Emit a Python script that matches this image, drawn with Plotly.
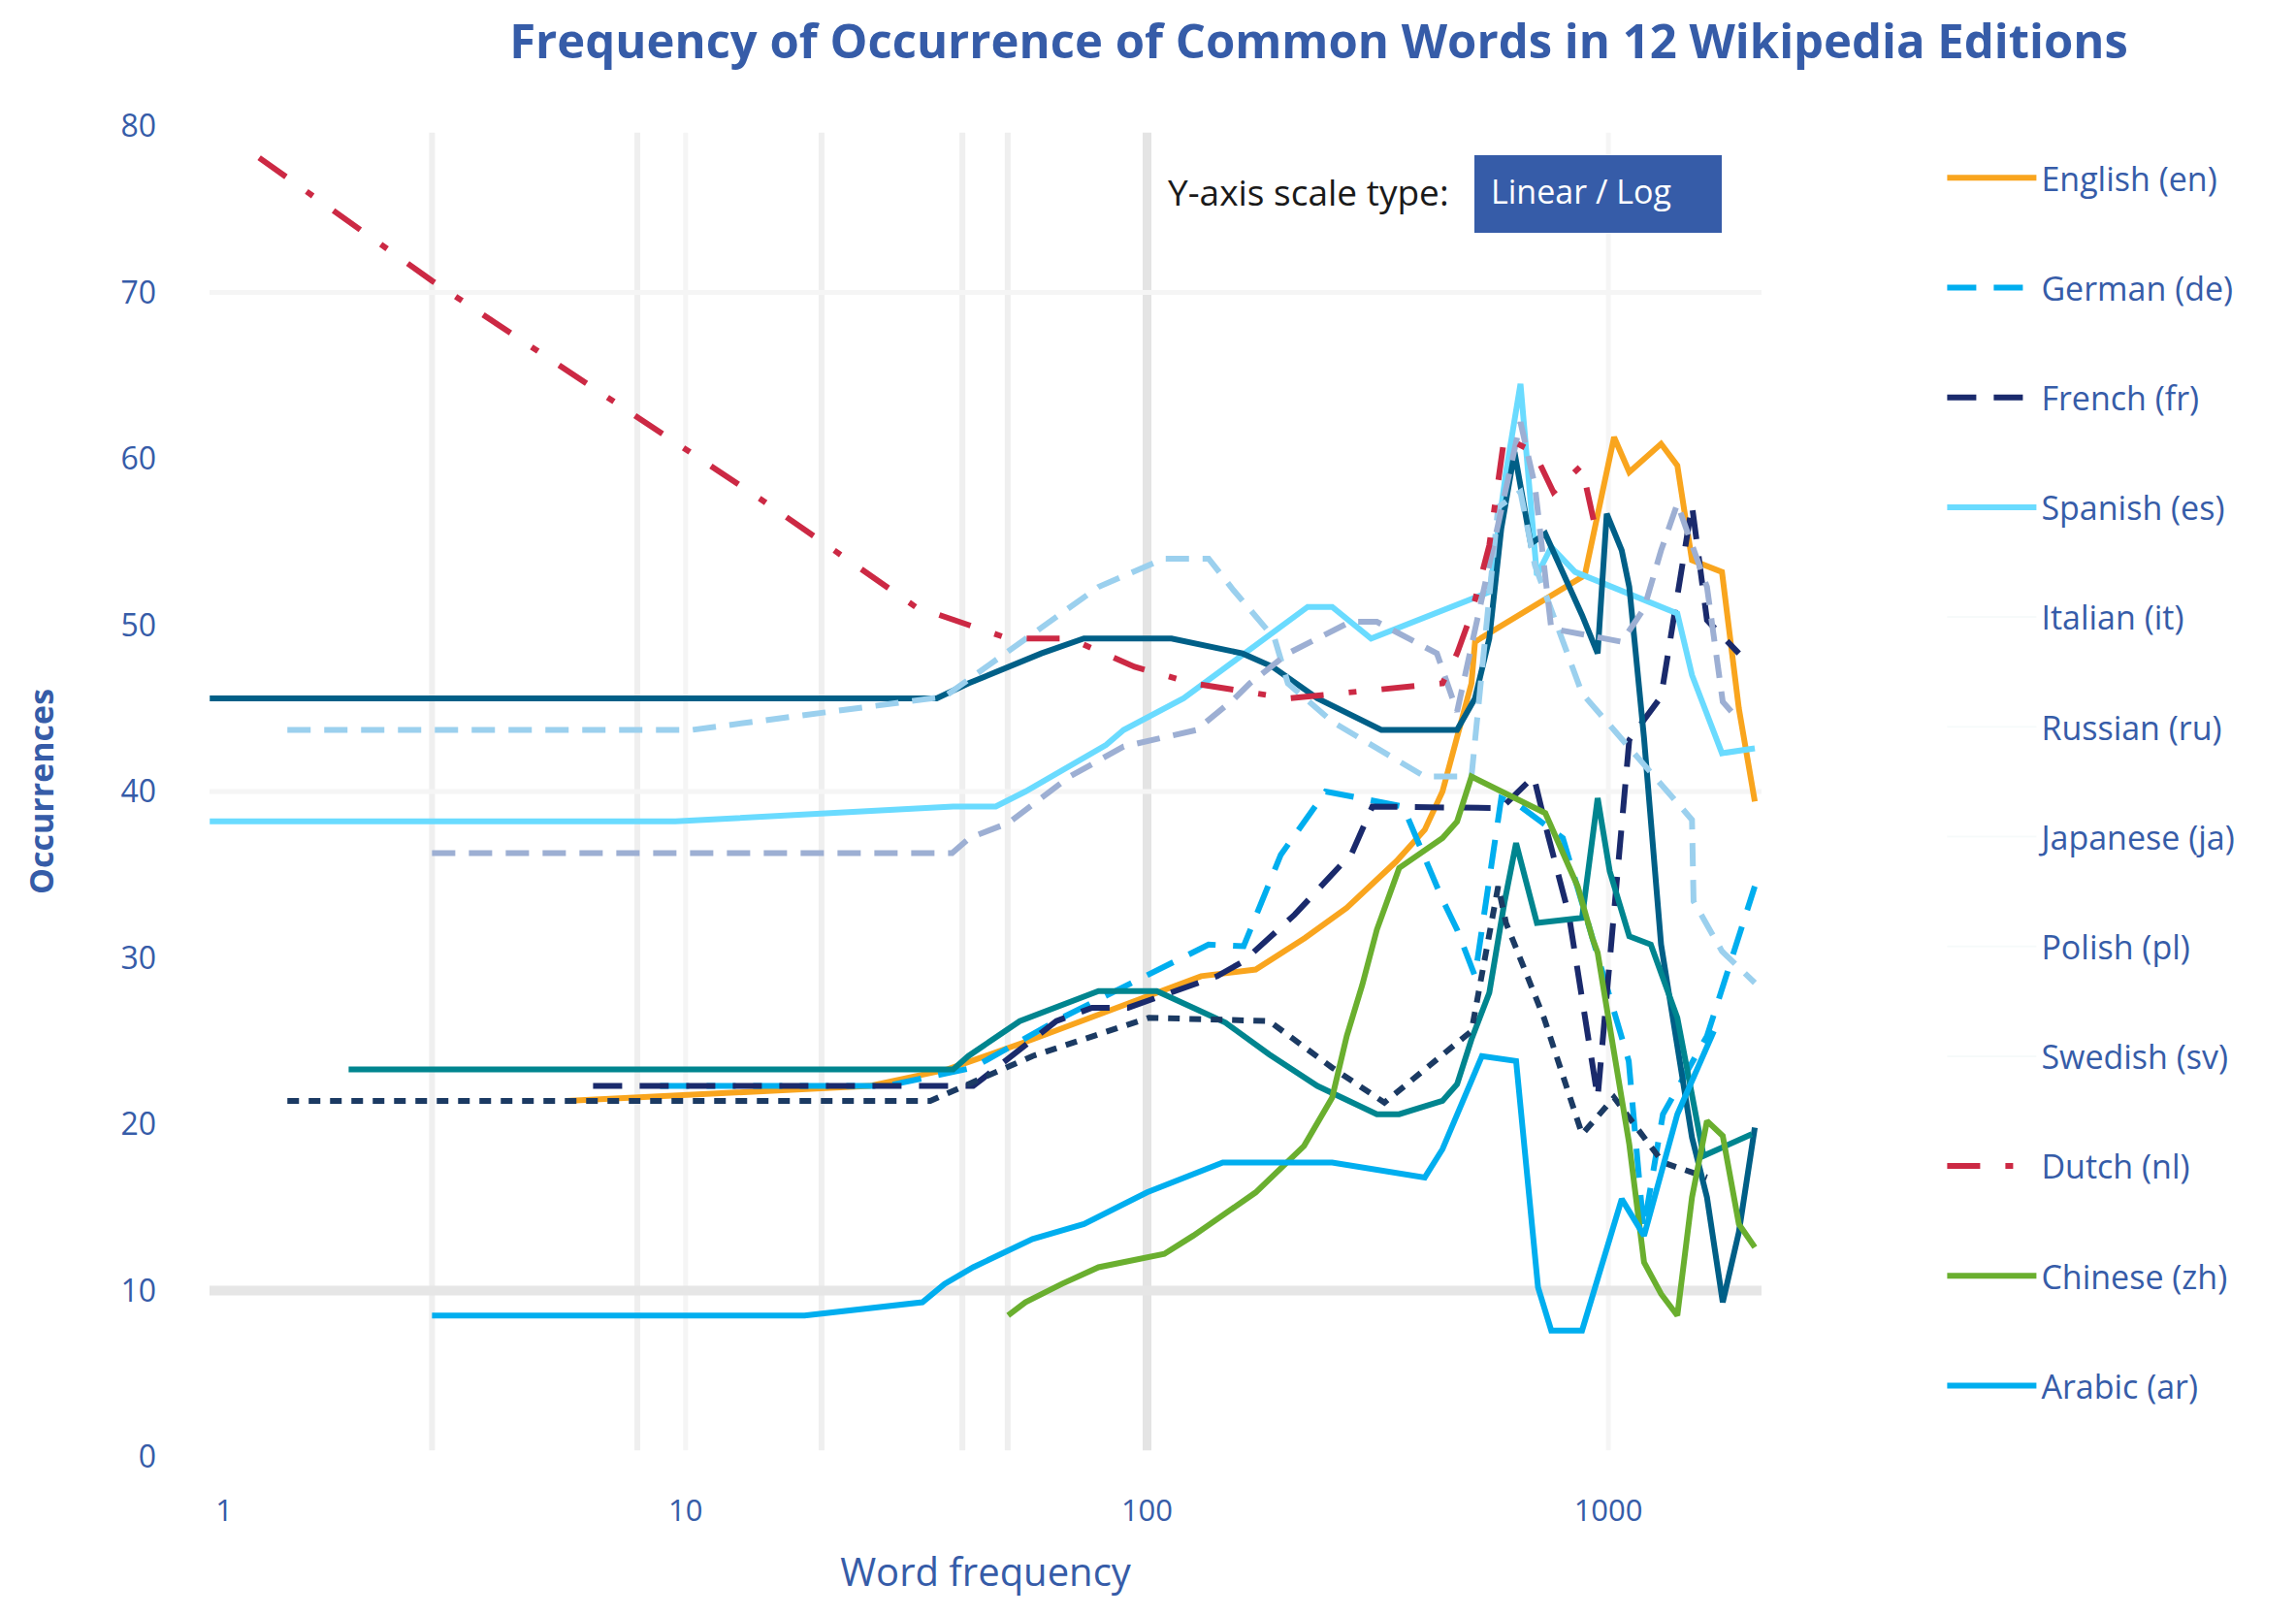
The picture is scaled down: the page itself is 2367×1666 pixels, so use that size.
import plotly.graph_objects as go

# ---------------- data ----------------
x_tick_vals = [1, 10, 100, 1000]
x_tick_text = ["1", "10", "100", "1000"]
y_tick_vals = [0, 10, 20, 30, 40, 50, 60, 70, 80]
y_tick_text = ["0", "10", "20", "30", "40", "50", "60", "70", "80"]

names = ["English (en)", "German (de)", "French (fr)", "Spanish (es)",
         "Italian (it)", "Russian (ru)", "Japanese (ja)", "Polish (pl)",
         "Swedish (sv)", "Dutch (nl)", "Chinese (zh)", "Arabic (ar)"]

orange_x = [5.5, 25, 37, 56.5, 131, 172, 220, 271, 347, 400, 437, 505, 514, 889, 1029, 1110, 1301, 1411, 1518, 1763, 1918, 2077]
orange_y = [21.4, 22.3, 23.3, 25.1, 28.9, 29.3, 31.2, 33.0, 35.8, 37.7, 40.0, 46.5, 49.0, 53.0, 61.3, 59.2, 60.9, 59.6, 53.9, 53.2, 45.0, 39.4]

bbd_x = [8.8, 27.2, 42, 65.4, 136, 162, 195, 244, 359, 407, 437, 470, 514, 586, 645, 797, 1107, 1192, 1313, 1636, 2077]
bbd_y = [22.3, 22.3, 23.4, 26.4, 30.8, 30.7, 36.2, 40.0, 39.1, 35.4, 33.5, 31.7, 28.9, 39.6, 39.1, 37.2, 23.8, 13.7, 20.6, 25.3, 34.3]

navy_x = [6.3, 29.3, 42, 63.6, 76, 91, 142, 162, 209, 278, 308, 586, 689, 741, 821, 948, 1110, 1301, 1518, 1636, 1918]
navy_y = [22.3, 22.3, 22.3, 26.2, 27.0, 27.0, 28.9, 29.8, 32.6, 36.3, 39.1, 39.0, 40.9, 37.3, 32.6, 21.6, 43.1, 45.7, 57.2, 50.3, 48.3]

cyan_x = [0.93, 9.5, 38, 47, 54.5, 81.5, 89, 105, 120, 223, 252, 306, 553, 600, 645, 700, 752, 847, 1411, 1518, 1763, 2077]
cyan_y = [38.2, 38.2, 39.1, 39.1, 40.0, 42.8, 43.7, 44.7, 45.6, 51.1, 51.1, 49.2, 52.0, 59.2, 64.5, 53.0, 54.7, 53.2, 50.7, 47.0, 42.3, 42.6]

dteal_x = [0.93, 35, 41, 59, 73, 113, 161, 187, 234, 322, 470, 514, 552, 586, 626, 679, 730, 877, 948, 992, 1069, 1110, 1195, 1301, 1518, 1636, 1770, 1918, 2077]
dteal_y = [45.6, 45.6, 46.5, 48.3, 49.2, 49.2, 48.3, 47.5, 45.6, 43.7, 43.7, 45.6, 49.2, 55.8, 60.4, 54.9, 55.5, 50.6, 48.3, 56.7, 54.5, 52.3, 43.2, 30.8, 19.2, 15.6, 9.3, 13.5, 19.8]

lblue_x = [1.37, 10.3, 36.4, 62, 78.5, 109, 136, 154, 189, 202, 252, 400, 505, 577, 645, 693, 815, 877, 1518, 1530, 1763, 2077]
lblue_y = [43.7, 43.7, 45.7, 50.2, 52.3, 54.0, 54.0, 52.1, 49.2, 46.5, 44.2, 40.9, 40.9, 57.1, 58.0, 53.6, 48.2, 45.9, 38.3, 33.4, 30.4, 28.5]

gblue_x = [2.82, 37.8, 41.2, 50, 68, 89, 128, 155, 167, 202, 276, 315, 425, 470, 645, 693, 752, 1069, 1195, 1301, 1411, 1518, 1636, 1770, 1918]
gblue_y = [36.3, 36.3, 37.2, 38.1, 40.9, 42.7, 43.7, 45.6, 46.5, 48.3, 50.2, 50.2, 48.3, 44.8, 62.2, 58.4, 49.8, 49.0, 51.0, 54.5, 57.3, 54.7, 52.3, 45.4, 44.3]

teal_x = [1.86, 38, 41, 53, 78.5, 105, 126, 148, 184, 234, 315, 352, 437, 470, 505, 552, 595, 631, 700, 877, 948, 1007, 1110, 1236, 1411, 1608, 2046]
teal_y = [23.3, 23.3, 24.1, 26.2, 28.0, 28.0, 27.0, 26.1, 24.2, 22.3, 20.6, 20.6, 21.4, 22.4, 25.1, 27.9, 33.3, 36.9, 32.1, 32.4, 39.6, 35.2, 31.3, 30.8, 26.4, 18.1, 19.4]

dnavy_x = [1.37, 33.9, 56.5, 101, 184, 252, 327, 505, 577, 600, 725, 787, 877, 1029, 1313, 1636]
dnavy_y = [21.4, 21.4, 24.1, 26.4, 26.2, 23.4, 21.3, 25.6, 34.3, 32.1, 26.4, 23.4, 19.4, 21.6, 17.7, 16.8]

red_x = [1.19, 2.82, 7.2, 14.5, 31.5, 50, 68, 94, 126, 202, 437, 470, 505, 552, 595, 691, 760, 875, 948]
red_y = [78.1, 70.7, 63.2, 57.6, 51.1, 49.2, 49.2, 47.5, 46.5, 45.6, 46.5, 48.3, 50.7, 54.8, 61.3, 60.4, 58.0, 59.6, 55.2]

green_x = [50, 54.5, 65.4, 78.5, 109, 126, 172, 219, 252, 271, 293, 315, 352, 437, 470, 505, 730, 858, 923, 948, 1029, 1110, 1195, 1301, 1411, 1518, 1636, 1770, 1918, 2077]
green_y = [8.5, 9.3, 10.4, 11.4, 12.2, 13.3, 15.9, 18.7, 21.6, 25.3, 28.4, 31.7, 35.4, 37.2, 38.2, 40.9, 38.7, 34.3, 31.2, 30.3, 24.3, 18.8, 11.7, 9.8, 8.5, 15.6, 20.2, 19.3, 14.0, 12.6]

bbs_x = [2.82, 18.1, 32.6, 36.4, 42, 56.5, 73, 100, 146, 252, 400, 437, 532, 631, 704, 752, 877, 948, 1069, 1195, 1411, 1693]
bbs_y = [8.5, 8.5, 9.3, 10.4, 11.4, 13.1, 14.0, 15.9, 17.7, 17.7, 16.8, 18.5, 24.1, 23.8, 10.2, 7.6, 7.6, 10.7, 15.5, 13.3, 20.6, 25.6]

series_x = [orange_x, bbd_x, navy_x, cyan_x, dteal_x, lblue_x, gblue_x, teal_x, dnavy_x, red_x, green_x, bbs_x]
series_y = [orange_y, bbd_y, navy_y, cyan_y, dteal_y, lblue_y, gblue_y, teal_y, dnavy_y, red_y, green_y, bbs_y]

# reference lines (positions in data units)
event_x = [2.82, 7.86, 19.7, 39.8, 49.9]
decade_x = [10, 1000]
strong_x = [100]
faint_y = [40, 70]
strong_y = [10]

# ---------------- styles ----------------
BLUE = "#365ca8"
colors = ["#f9a51e", "#00aeef", "#1a2a6c", "#6adbff", "#005f87", "#9bd0ee",
          "#9dafd3", "#00858f", "#1b3a63", "#cc2944", "#6aaf2f", "#00aeef"]
dashes = ["solid", "30px,18px", "30px,18px", "solid", "solid", "24px,14px",
          "24px,14px", "solid", "12px,10px", "34px,26px,8px,26px", "solid", "solid"]
swatch_hidden = [False, False, False, False, True, True, True, True, True, False, False, False]

fig = go.Figure()

for i in range(len(names)):
    fig.add_trace(go.Scatter(
        x=series_x[i], y=series_y[i], mode="lines", name=names[i],
        line=dict(color=colors[i], width=6, dash=dashes[i]),
        legendgroup=f"g{i}", showlegend=not swatch_hidden[i],
        legendrank=i + 1,
    ))
    if swatch_hidden[i]:
        # legend entry whose swatch is (almost) invisible, as in the picture
        fig.add_trace(go.Scatter(
            x=[None], y=[None], mode="lines", name=names[i],
            line=dict(color="rgba(230,240,240,0.35)", width=2),
            legendgroup=f"g{i}", showlegend=True, legendrank=i + 1,
        ))

shapes = []
for xv in event_x:
    shapes.append(dict(type="line", xref="x", yref="paper", x0=xv, x1=xv, y0=0.005, y1=0.995,
                       line=dict(color="#efefef", width=6), layer="below"))
for xv in decade_x:
    shapes.append(dict(type="line", xref="x", yref="paper", x0=xv, x1=xv, y0=0.005, y1=0.995,
                       line=dict(color="#f5f5f5", width=5), layer="below"))
for xv in strong_x:
    shapes.append(dict(type="line", xref="x", yref="paper", x0=xv, x1=xv, y0=0.005, y1=0.995,
                       line=dict(color="#e4e4e4", width=9), layer="below"))
for yv in faint_y:
    shapes.append(dict(type="line", xref="paper", yref="y", x0=0, x1=1, y0=yv, y1=yv,
                       line=dict(color="#f5f5f5", width=5), layer="below"))
for yv in strong_y:
    shapes.append(dict(type="line", xref="paper", yref="y", x0=0, x1=1, y0=yv, y1=yv,
                       line=dict(color="#e6e6e6", width=10), layer="below"))

fig.update_layout(
    width=2367, height=1666,
    margin=dict(l=208, r=559, t=122, b=172),
    paper_bgcolor="white", plot_bgcolor="white",
    font=dict(family="Open Sans", color=BLUE, size=28),
    title=dict(text="<b>Frequency of Occurrence of Common Words in 12 Wikipedia Editions</b>",
               x=0.571, xanchor="center", y=0.979, yanchor="middle",
               font=dict(size=49, color=BLUE)),
    xaxis=dict(type="log", range=[-0.032, 3.332], tickvals=x_tick_vals, ticktext=x_tick_text,
               showgrid=False, zeroline=False, showline=False, ticks="",
               tickfont=dict(size=31, color=BLUE), ticklabelstandoff=34,
               title=dict(text="Word frequency", font=dict(size=40, color=BLUE), standoff=30)),
    yaxis=dict(range=[0, 80], tickvals=y_tick_vals, ticktext=y_tick_text,
               showgrid=False, zeroline=False, showline=False, ticks="",
               tickfont=dict(size=32, color=BLUE), ticklabelstandoff=54,
               title=dict(text="<b>Occurrences</b>", font=dict(size=34, color=BLUE), standoff=58)),
    legend=dict(x=1.1165, xanchor="left", y=0.982, yanchor="top",
                font=dict(size=34, color=BLUE), itemwidth=92, tracegroupgap=66,
                bgcolor="rgba(0,0,0,0)"),
    shapes=shapes,
    annotations=[
        dict(text="Y-axis scale type:", xref="paper", yref="paper",
             x=0.80, xanchor="right", y=0.951, yanchor="middle", showarrow=False,
             font=dict(size=37, color="#1a1a1a")),
        dict(text=" ", xref="paper", yref="paper", x=0.815, xanchor="left",
             y=0.978, yanchor="top", width=255, height=80, bgcolor=BLUE,
             borderpad=0, borderwidth=0, showarrow=False, font=dict(size=10)),
    ],
    updatemenus=[dict(type="buttons", direction="right", showactive=False,
                      x=0.818, xanchor="left", y=0.944, yanchor="middle",
                      bgcolor=BLUE, bordercolor=BLUE, borderwidth=0,
                      font=dict(size=34, color="white"), pad=dict(t=0, b=0, l=0, r=0),
                      buttons=[dict(label="Linear / Log", method="relayout",
                                    args=[{"yaxis.type": "log"}],
                                    args2=[{"yaxis.type": "linear"}])])],
)

fig.write_html("out.html")
